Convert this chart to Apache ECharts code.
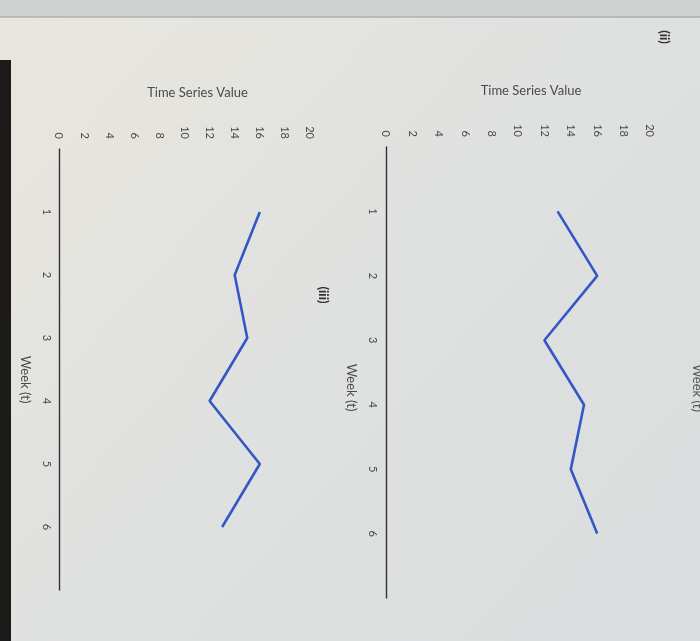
<!DOCTYPE html>
<html>
<head>
<meta charset="utf-8">
<script src="https://cdn.jsdelivr.net/npm/echarts@6/dist/echarts.min.js"></script>
<style>
html,body{margin:0;padding:0;width:700px;height:641px;overflow:hidden;}
#chart{width:700px;height:641px;}
</style>
</head>
<body>
<div id="chart"></div>
<script>
// Data
const weeks = [1, 2, 3, 4, 5, 6];
const seriesII = [13, 16, 12, 15, 14, 16];
const seriesIII = [16, 14, 15, 12, 16, 13];
const valueAxisName = 'Time Series Value';
const weekAxisName = 'Week (t)';
const panelLabels = ['(ii)', '(iii)'];

const FONT = 'Lato, "DejaVu Sans", sans-serif';
const TXT = '#4a4a4a';
const LINE = '#3457c8';

function valueAxis(gridIndex) {
  return {
    gridIndex: gridIndex, type: 'value', position: 'top',
    min: 0, max: 20, interval: 2,
    axisLine: {show: false}, axisTick: {show: false}, splitLine: {show: false},
    axisLabel: {rotate: -90, margin: 10, color: TXT, fontSize: 11, fontFamily: FONT},
    name: valueAxisName, nameLocation: 'middle', nameGap: 50,
    nameTextStyle: {color: TXT, fontSize: 13, fontFamily: FONT, padding: [0, 0, 0, 26]}
  };
}
function weekAxis(gridIndex, margin, gap, shift) {
  return {
    gridIndex: gridIndex, type: 'value', inverse: true,
    min: 0, max: 7, interval: 1,
    axisLine: {show: true, lineStyle: {color: '#333', width: 1.4}},
    axisTick: {show: false}, splitLine: {show: false},
    axisLabel: {rotate: -90, margin: margin, color: TXT, fontSize: 11, fontFamily: FONT,
      formatter: v => (weeks.indexOf(v) >= 0 ? String(v) : '')},
    name: weekAxisName, nameLocation: 'middle', nameGap: gap, nameRotate: -90,
    nameTextStyle: {color: TXT, fontSize: 13, fontFamily: FONT, padding: [0, 0, 0, shift]}
  };
}

const chart = echarts.init(document.getElementById('chart'));
chart.setOption({
  animation: false,
  backgroundColor: {
    type: 'linear', x: 0, y: 0, x2: 1, y2: 1,
    colorStops: [{offset: 0, color: '#e9e6de'}, {offset: 0.5, color: '#dfe1e0'}, {offset: 1, color: '#d9dddd'}]
  },
  graphic: [
    {type: 'rect', shape: {x: 0, y: 0, width: 700, height: 17}, style: {fill: '#cfd1d1'}},
    {type: 'line', shape: {x1: 0, y1: 17, x2: 700, y2: 17}, style: {stroke: '#9a9c9c', lineWidth: 1}},
    {type: 'rect', shape: {x: 0, y: 60, width: 11, height: 581}, style: {fill: '#1c1a18'}},
    {type: 'text', x: 664, y: 37, rotation: -Math.PI / 2,
      style: {text: panelLabels[0], font: 'bold 13px ' + FONT, fill: '#333', align: 'center', verticalAlign: 'middle'}},
    {type: 'text', x: 323, y: 295, rotation: -Math.PI / 2,
      style: {text: panelLabels[1], font: 'bold 13px ' + FONT, fill: '#333', align: 'center', verticalAlign: 'middle'}},
    {type: 'text', x: 697, y: 388, rotation: -Math.PI / 2,
      style: {text: weekAxisName, font: '13px ' + FONT, fill: '#555', align: 'center', verticalAlign: 'middle'}}
  ],
  grid: [
    {left: 386, top: 147, width: 264, height: 451},
    {left: 59, top: 149, width: 251, height: 441}
  ],
  xAxis: [valueAxis(0), valueAxis(1)],
  yAxis: [weekAxis(0, 8, 28, 30), weekAxis(1, 7, 27, 20)],
  series: [
    {type: 'line', xAxisIndex: 0, yAxisIndex: 0, symbol: 'none',
      lineStyle: {color: LINE, width: 2.6},
      data: weeks.map((w, i) => [seriesII[i], w])},
    {type: 'line', xAxisIndex: 1, yAxisIndex: 1, symbol: 'none',
      lineStyle: {color: LINE, width: 2.6},
      data: weeks.map((w, i) => [seriesIII[i], w])}
  ]
});
</script>
</body>
</html>
